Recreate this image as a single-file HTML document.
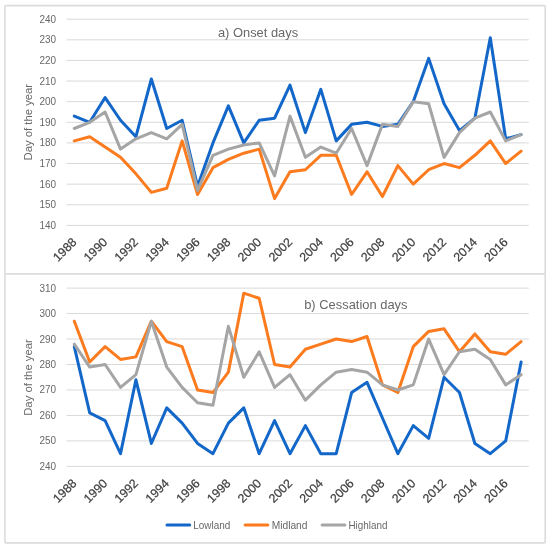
<!DOCTYPE html>
<html><head><meta charset="utf-8"><title>Onset and cessation days</title>
<style>html,body{margin:0;padding:0;background:#fff}svg{display:block}</style></head>
<body>
<svg width="550" height="548" viewBox="0 0 550 548">
<rect x="0" y="0" width="550" height="548" fill="#fff"/>
<rect x="4.9" y="5.6" width="540.3" height="268.3" rx="1" fill="#fff" stroke="#dcdcdc" stroke-width="1.6"/>
<rect x="4.9" y="273.9" width="540.3" height="269" rx="1" fill="#fff" stroke="#dcdcdc" stroke-width="1.6"/>
<line x1="66.6" x2="528.8" y1="19.20" y2="19.20" stroke="#d9d9d9" stroke-width="1"/>
<text x="56" y="22.70" text-anchor="end" font-family="Liberation Sans, sans-serif" font-size="10" fill="#686868" textLength="16.6" lengthAdjust="spacingAndGlyphs">240</text>
<line x1="66.6" x2="528.8" y1="39.82" y2="39.82" stroke="#d9d9d9" stroke-width="1"/>
<text x="56" y="43.32" text-anchor="end" font-family="Liberation Sans, sans-serif" font-size="10" fill="#686868" textLength="16.6" lengthAdjust="spacingAndGlyphs">230</text>
<line x1="66.6" x2="528.8" y1="60.44" y2="60.44" stroke="#d9d9d9" stroke-width="1"/>
<text x="56" y="63.94" text-anchor="end" font-family="Liberation Sans, sans-serif" font-size="10" fill="#686868" textLength="16.6" lengthAdjust="spacingAndGlyphs">220</text>
<line x1="66.6" x2="528.8" y1="81.06" y2="81.06" stroke="#d9d9d9" stroke-width="1"/>
<text x="56" y="84.56" text-anchor="end" font-family="Liberation Sans, sans-serif" font-size="10" fill="#686868" textLength="16.6" lengthAdjust="spacingAndGlyphs">210</text>
<line x1="66.6" x2="528.8" y1="101.68" y2="101.68" stroke="#d9d9d9" stroke-width="1"/>
<text x="56" y="105.18" text-anchor="end" font-family="Liberation Sans, sans-serif" font-size="10" fill="#686868" textLength="16.6" lengthAdjust="spacingAndGlyphs">200</text>
<line x1="66.6" x2="528.8" y1="122.30" y2="122.30" stroke="#d9d9d9" stroke-width="1"/>
<text x="56" y="125.80" text-anchor="end" font-family="Liberation Sans, sans-serif" font-size="10" fill="#686868" textLength="16.6" lengthAdjust="spacingAndGlyphs">190</text>
<line x1="66.6" x2="528.8" y1="142.92" y2="142.92" stroke="#d9d9d9" stroke-width="1"/>
<text x="56" y="146.42" text-anchor="end" font-family="Liberation Sans, sans-serif" font-size="10" fill="#686868" textLength="16.6" lengthAdjust="spacingAndGlyphs">180</text>
<line x1="66.6" x2="528.8" y1="163.54" y2="163.54" stroke="#d9d9d9" stroke-width="1"/>
<text x="56" y="167.04" text-anchor="end" font-family="Liberation Sans, sans-serif" font-size="10" fill="#686868" textLength="16.6" lengthAdjust="spacingAndGlyphs">170</text>
<line x1="66.6" x2="528.8" y1="184.16" y2="184.16" stroke="#d9d9d9" stroke-width="1"/>
<text x="56" y="187.66" text-anchor="end" font-family="Liberation Sans, sans-serif" font-size="10" fill="#686868" textLength="16.6" lengthAdjust="spacingAndGlyphs">160</text>
<line x1="66.6" x2="528.8" y1="204.78" y2="204.78" stroke="#d9d9d9" stroke-width="1"/>
<text x="56" y="208.28" text-anchor="end" font-family="Liberation Sans, sans-serif" font-size="10" fill="#686868" textLength="16.6" lengthAdjust="spacingAndGlyphs">150</text>
<line x1="66.6" x2="528.8" y1="225.40" y2="225.40" stroke="#d9d9d9" stroke-width="1"/>
<text x="56" y="228.90" text-anchor="end" font-family="Liberation Sans, sans-serif" font-size="10" fill="#686868" textLength="16.6" lengthAdjust="spacingAndGlyphs">140</text>
<text x="217.9" y="36.5" font-family="Liberation Sans, sans-serif" font-size="13.4" fill="#686868" textLength="80.3" lengthAdjust="spacingAndGlyphs">a) Onset days</text>
<text transform="translate(31.7,122.2) rotate(-90)" text-anchor="middle" font-family="Liberation Sans, sans-serif" font-size="10.6" fill="#686868" textLength="76.6" lengthAdjust="spacingAndGlyphs">Day of the year</text>
<polyline points="74.30,116.11 89.71,122.30 105.12,97.56 120.52,120.24 135.93,136.73 151.34,79.00 166.74,128.49 182.15,120.24 197.56,186.22 212.96,142.92 228.37,105.80 243.78,142.92 259.18,120.24 274.59,118.18 290.00,85.18 305.40,132.61 320.81,89.31 336.22,140.86 351.62,124.36 367.03,122.30 382.44,126.42 397.84,124.36 413.25,101.68 428.66,58.38 444.06,103.74 459.47,130.55 474.88,118.18 490.28,37.76 505.69,138.80 521.10,134.67" fill="none" stroke="#1267c9" stroke-width="3" stroke-linejoin="round" stroke-linecap="round"/>
<polyline points="74.30,140.86 89.71,136.73 105.12,147.04 120.52,157.35 135.93,173.85 151.34,192.41 166.74,188.28 182.15,140.86 197.56,194.47 212.96,167.66 228.37,159.42 243.78,153.23 259.18,149.11 274.59,198.59 290.00,171.79 305.40,169.73 320.81,155.29 336.22,155.29 351.62,194.47 367.03,171.79 382.44,196.53 397.84,165.60 413.25,184.16 428.66,169.73 444.06,163.54 459.47,167.66 474.88,155.29 490.28,140.86 505.69,163.54 521.10,151.17" fill="none" stroke="#fb7b1e" stroke-width="3" stroke-linejoin="round" stroke-linecap="round"/>
<polyline points="74.30,128.49 89.71,122.30 105.12,111.99 120.52,149.11 135.93,138.80 151.34,132.61 166.74,138.80 182.15,124.36 197.56,190.35 212.96,155.29 228.37,149.11 243.78,144.98 259.18,142.92 274.59,175.91 290.00,116.11 305.40,157.35 320.81,147.04 336.22,153.23 351.62,128.49 367.03,165.60 382.44,124.36 397.84,126.42 413.25,101.68 428.66,103.74 444.06,157.35 459.47,132.61 474.88,118.18 490.28,111.99 505.69,140.86 521.10,134.67" fill="none" stroke="#a5a5a5" stroke-width="3" stroke-linejoin="round" stroke-linecap="round"/>
<text transform="translate(77.30,242.9) rotate(-45)" text-anchor="end" font-family="Liberation Sans, sans-serif" font-size="12.3" fill="#404040" stroke="#404040" stroke-width="0.25">1988</text>
<text transform="translate(108.12,242.9) rotate(-45)" text-anchor="end" font-family="Liberation Sans, sans-serif" font-size="12.3" fill="#404040" stroke="#404040" stroke-width="0.25">1990</text>
<text transform="translate(138.93,242.9) rotate(-45)" text-anchor="end" font-family="Liberation Sans, sans-serif" font-size="12.3" fill="#404040" stroke="#404040" stroke-width="0.25">1992</text>
<text transform="translate(169.74,242.9) rotate(-45)" text-anchor="end" font-family="Liberation Sans, sans-serif" font-size="12.3" fill="#404040" stroke="#404040" stroke-width="0.25">1994</text>
<text transform="translate(200.56,242.9) rotate(-45)" text-anchor="end" font-family="Liberation Sans, sans-serif" font-size="12.3" fill="#404040" stroke="#404040" stroke-width="0.25">1996</text>
<text transform="translate(231.37,242.9) rotate(-45)" text-anchor="end" font-family="Liberation Sans, sans-serif" font-size="12.3" fill="#404040" stroke="#404040" stroke-width="0.25">1998</text>
<text transform="translate(262.18,242.9) rotate(-45)" text-anchor="end" font-family="Liberation Sans, sans-serif" font-size="12.3" fill="#404040" stroke="#404040" stroke-width="0.25">2000</text>
<text transform="translate(293.00,242.9) rotate(-45)" text-anchor="end" font-family="Liberation Sans, sans-serif" font-size="12.3" fill="#404040" stroke="#404040" stroke-width="0.25">2002</text>
<text transform="translate(323.81,242.9) rotate(-45)" text-anchor="end" font-family="Liberation Sans, sans-serif" font-size="12.3" fill="#404040" stroke="#404040" stroke-width="0.25">2004</text>
<text transform="translate(354.62,242.9) rotate(-45)" text-anchor="end" font-family="Liberation Sans, sans-serif" font-size="12.3" fill="#404040" stroke="#404040" stroke-width="0.25">2006</text>
<text transform="translate(385.44,242.9) rotate(-45)" text-anchor="end" font-family="Liberation Sans, sans-serif" font-size="12.3" fill="#404040" stroke="#404040" stroke-width="0.25">2008</text>
<text transform="translate(416.25,242.9) rotate(-45)" text-anchor="end" font-family="Liberation Sans, sans-serif" font-size="12.3" fill="#404040" stroke="#404040" stroke-width="0.25">2010</text>
<text transform="translate(447.06,242.9) rotate(-45)" text-anchor="end" font-family="Liberation Sans, sans-serif" font-size="12.3" fill="#404040" stroke="#404040" stroke-width="0.25">2012</text>
<text transform="translate(477.88,242.9) rotate(-45)" text-anchor="end" font-family="Liberation Sans, sans-serif" font-size="12.3" fill="#404040" stroke="#404040" stroke-width="0.25">2014</text>
<text transform="translate(508.69,242.9) rotate(-45)" text-anchor="end" font-family="Liberation Sans, sans-serif" font-size="12.3" fill="#404040" stroke="#404040" stroke-width="0.25">2016</text>
<line x1="66.6" x2="528.8" y1="288.10" y2="288.10" stroke="#d9d9d9" stroke-width="1"/>
<text x="56" y="291.60" text-anchor="end" font-family="Liberation Sans, sans-serif" font-size="10" fill="#686868" textLength="16.6" lengthAdjust="spacingAndGlyphs">310</text>
<line x1="66.6" x2="528.8" y1="313.57" y2="313.57" stroke="#d9d9d9" stroke-width="1"/>
<text x="56" y="317.07" text-anchor="end" font-family="Liberation Sans, sans-serif" font-size="10" fill="#686868" textLength="16.6" lengthAdjust="spacingAndGlyphs">300</text>
<line x1="66.6" x2="528.8" y1="339.04" y2="339.04" stroke="#d9d9d9" stroke-width="1"/>
<text x="56" y="342.54" text-anchor="end" font-family="Liberation Sans, sans-serif" font-size="10" fill="#686868" textLength="16.6" lengthAdjust="spacingAndGlyphs">290</text>
<line x1="66.6" x2="528.8" y1="364.51" y2="364.51" stroke="#d9d9d9" stroke-width="1"/>
<text x="56" y="368.01" text-anchor="end" font-family="Liberation Sans, sans-serif" font-size="10" fill="#686868" textLength="16.6" lengthAdjust="spacingAndGlyphs">280</text>
<line x1="66.6" x2="528.8" y1="389.98" y2="389.98" stroke="#d9d9d9" stroke-width="1"/>
<text x="56" y="393.48" text-anchor="end" font-family="Liberation Sans, sans-serif" font-size="10" fill="#686868" textLength="16.6" lengthAdjust="spacingAndGlyphs">270</text>
<line x1="66.6" x2="528.8" y1="415.45" y2="415.45" stroke="#d9d9d9" stroke-width="1"/>
<text x="56" y="418.95" text-anchor="end" font-family="Liberation Sans, sans-serif" font-size="10" fill="#686868" textLength="16.6" lengthAdjust="spacingAndGlyphs">260</text>
<line x1="66.6" x2="528.8" y1="440.92" y2="440.92" stroke="#d9d9d9" stroke-width="1"/>
<text x="56" y="444.42" text-anchor="end" font-family="Liberation Sans, sans-serif" font-size="10" fill="#686868" textLength="16.6" lengthAdjust="spacingAndGlyphs">250</text>
<line x1="66.6" x2="528.8" y1="466.39" y2="466.39" stroke="#d9d9d9" stroke-width="1"/>
<text x="56" y="469.89" text-anchor="end" font-family="Liberation Sans, sans-serif" font-size="10" fill="#686868" textLength="16.6" lengthAdjust="spacingAndGlyphs">240</text>
<text x="304.2" y="308.9" font-family="Liberation Sans, sans-serif" font-size="13.4" fill="#686868" textLength="103.3" lengthAdjust="spacingAndGlyphs">b) Cessation days</text>
<text transform="translate(31.7,377.5) rotate(-90)" text-anchor="middle" font-family="Liberation Sans, sans-serif" font-size="10.6" fill="#686868" textLength="76.6" lengthAdjust="spacingAndGlyphs">Day of the year</text>
<polyline points="74.30,346.68 89.71,412.90 105.12,420.54 120.52,453.66 135.93,379.79 151.34,443.47 166.74,407.81 182.15,423.09 197.56,443.47 212.96,453.66 228.37,423.09 243.78,407.81 259.18,453.66 274.59,420.54 290.00,453.66 305.40,425.64 320.81,453.66 336.22,453.66 351.62,392.53 367.03,382.34 382.44,418.00 397.84,453.66 413.25,425.64 428.66,438.37 444.06,377.25 459.47,392.53 474.88,443.47 490.28,453.66 505.69,440.92 521.10,361.96" fill="none" stroke="#1267c9" stroke-width="3" stroke-linejoin="round" stroke-linecap="round"/>
<polyline points="74.30,321.21 89.71,361.96 105.12,346.68 120.52,359.42 135.93,356.87 151.34,321.21 166.74,341.59 182.15,346.68 197.56,389.98 212.96,392.53 228.37,372.15 243.78,293.19 259.18,298.29 274.59,364.51 290.00,367.06 305.40,349.23 320.81,344.13 336.22,339.04 351.62,341.59 367.03,336.49 382.44,384.89 397.84,392.53 413.25,346.68 428.66,331.40 444.06,328.85 459.47,351.78 474.88,333.95 490.28,351.78 505.69,354.32 521.10,341.59" fill="none" stroke="#fb7b1e" stroke-width="3" stroke-linejoin="round" stroke-linecap="round"/>
<polyline points="74.30,344.13 89.71,367.06 105.12,364.51 120.52,387.43 135.93,374.70 151.34,321.21 166.74,367.06 182.15,387.43 197.56,402.72 212.96,405.26 228.37,326.31 243.78,377.25 259.18,351.78 274.59,387.43 290.00,374.70 305.40,400.17 320.81,384.89 336.22,372.15 351.62,369.60 367.03,372.15 382.44,384.89 397.84,389.98 413.25,384.89 428.66,339.04 444.06,374.70 459.47,351.78 474.88,349.23 490.28,359.42 505.69,384.89 521.10,374.70" fill="none" stroke="#a5a5a5" stroke-width="3" stroke-linejoin="round" stroke-linecap="round"/>
<text transform="translate(77.30,484.1) rotate(-45)" text-anchor="end" font-family="Liberation Sans, sans-serif" font-size="12.3" fill="#404040" stroke="#404040" stroke-width="0.25">1988</text>
<text transform="translate(108.12,484.1) rotate(-45)" text-anchor="end" font-family="Liberation Sans, sans-serif" font-size="12.3" fill="#404040" stroke="#404040" stroke-width="0.25">1990</text>
<text transform="translate(138.93,484.1) rotate(-45)" text-anchor="end" font-family="Liberation Sans, sans-serif" font-size="12.3" fill="#404040" stroke="#404040" stroke-width="0.25">1992</text>
<text transform="translate(169.74,484.1) rotate(-45)" text-anchor="end" font-family="Liberation Sans, sans-serif" font-size="12.3" fill="#404040" stroke="#404040" stroke-width="0.25">1994</text>
<text transform="translate(200.56,484.1) rotate(-45)" text-anchor="end" font-family="Liberation Sans, sans-serif" font-size="12.3" fill="#404040" stroke="#404040" stroke-width="0.25">1996</text>
<text transform="translate(231.37,484.1) rotate(-45)" text-anchor="end" font-family="Liberation Sans, sans-serif" font-size="12.3" fill="#404040" stroke="#404040" stroke-width="0.25">1998</text>
<text transform="translate(262.18,484.1) rotate(-45)" text-anchor="end" font-family="Liberation Sans, sans-serif" font-size="12.3" fill="#404040" stroke="#404040" stroke-width="0.25">2000</text>
<text transform="translate(293.00,484.1) rotate(-45)" text-anchor="end" font-family="Liberation Sans, sans-serif" font-size="12.3" fill="#404040" stroke="#404040" stroke-width="0.25">2002</text>
<text transform="translate(323.81,484.1) rotate(-45)" text-anchor="end" font-family="Liberation Sans, sans-serif" font-size="12.3" fill="#404040" stroke="#404040" stroke-width="0.25">2004</text>
<text transform="translate(354.62,484.1) rotate(-45)" text-anchor="end" font-family="Liberation Sans, sans-serif" font-size="12.3" fill="#404040" stroke="#404040" stroke-width="0.25">2006</text>
<text transform="translate(385.44,484.1) rotate(-45)" text-anchor="end" font-family="Liberation Sans, sans-serif" font-size="12.3" fill="#404040" stroke="#404040" stroke-width="0.25">2008</text>
<text transform="translate(416.25,484.1) rotate(-45)" text-anchor="end" font-family="Liberation Sans, sans-serif" font-size="12.3" fill="#404040" stroke="#404040" stroke-width="0.25">2010</text>
<text transform="translate(447.06,484.1) rotate(-45)" text-anchor="end" font-family="Liberation Sans, sans-serif" font-size="12.3" fill="#404040" stroke="#404040" stroke-width="0.25">2012</text>
<text transform="translate(477.88,484.1) rotate(-45)" text-anchor="end" font-family="Liberation Sans, sans-serif" font-size="12.3" fill="#404040" stroke="#404040" stroke-width="0.25">2014</text>
<text transform="translate(508.69,484.1) rotate(-45)" text-anchor="end" font-family="Liberation Sans, sans-serif" font-size="12.3" fill="#404040" stroke="#404040" stroke-width="0.25">2016</text>
<line x1="167.0" x2="189.7" y1="525.1" y2="525.1" stroke="#1267c9" stroke-width="3" stroke-linecap="round"/>
<text x="193.2" y="528.6" font-family="Liberation Sans, sans-serif" font-size="10.3" fill="#686868" textLength="37.1" lengthAdjust="spacingAndGlyphs">Lowland</text>
<line x1="245.1" x2="267.8" y1="525.1" y2="525.1" stroke="#fb7b1e" stroke-width="3" stroke-linecap="round"/>
<text x="271.7" y="528.6" font-family="Liberation Sans, sans-serif" font-size="10.3" fill="#686868" textLength="35.8" lengthAdjust="spacingAndGlyphs">Midland</text>
<line x1="322.1" x2="344.9" y1="525.1" y2="525.1" stroke="#a5a5a5" stroke-width="3" stroke-linecap="round"/>
<text x="348.5" y="528.6" font-family="Liberation Sans, sans-serif" font-size="10.3" fill="#686868" textLength="38.9" lengthAdjust="spacingAndGlyphs">Highland</text>
</svg>
</body></html>
